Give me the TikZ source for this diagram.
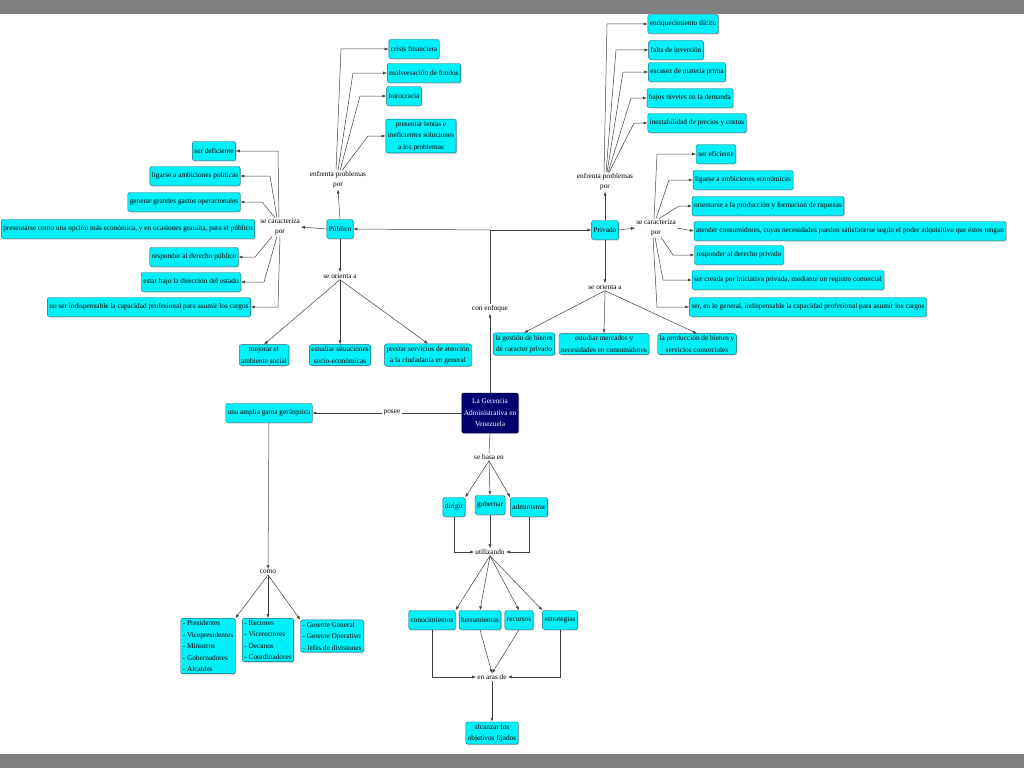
\documentclass[tikz,border=0pt]{standalone}
\usepackage{fontspec}
\setmainfont{Liberation Serif}
\usetikzlibrary{arrows.meta,shadows}
\definecolor{cy}{RGB}{0,240,250}
\definecolor{cyb}{RGB}{0,110,120}
\begin{document}
\begin{tikzpicture}[x=1pt,y=-1pt,
 box/.style={draw=cyb,fill=cy,rounded corners=2pt,inner xsep=2pt,inner ysep=2pt,minimum height=19pt,font=\fontsize{7.3}{11.5}\selectfont,align=center,drop shadow={shadow xshift=1pt,shadow yshift=-1pt,opacity=.4}},
 lbox/.style={box,align=left},
 lab/.style={font=\fontsize{7.3}{10}\selectfont,align=center,inner sep=1pt,fill=white},
 ln/.style={draw=black!75,line width=0.5pt},
 arr/.style={ln,-{Latex[length=4pt,width=3pt]}}]
\useasboundingbox (0,0) rectangle (1024,768);
\fill[gray] (0,0) rectangle (1024,14);
\fill[gray] (0,754) rectangle (1024,768);
% central
\node[box,fill={rgb,255:red,0;green,0;blue,110},draw=black,text=white,minimum width=56pt,minimum height=40pt] (cen) at (490,413) {La Gerencia\\Administrativa en\\Venezuela};
\node[lab] (enf) at (490,309) {con enfoque};
\node[box] (pub) at (340,229) {Público};
\node[box] (pri) at (605,230) {Privado};
\coordinate (J) at (490,230);
\draw[arr] (cen.north) -- (enf.south);
\draw[ln] (enf.north) -- (J);
\draw[arr] (J) -- (pub.east);
\draw[arr] (J) -- (pri.west);
% Publico problems
\node[lab] (epP) at (338,180) {enfrenta problemas\\por};
\node[box] (p1) at (414,49) {crisis financiera};
\node[box] (p2) at (424,73) {malversación de fondos};
\node[box] (p3) at (404,96) {burocracia};
\node[box] (p4) at (421,136) {presentar lentas e\\ineficientes soluciones\\a los problemas};
\draw[arr] (pub.north) -- (epP.south);
\draw[arr] ([xshift=-2pt]epP.north) -- (341,49) -- (p1.west);
\draw[arr] ([xshift=0pt]epP.north) -- (353,73) -- (p2.west);
\draw[arr] ([xshift=2pt]epP.north) -- (360,96) -- (p3.west);
\draw[arr] ([xshift=4pt]epP.north) -- (368,136) -- (p4.west);
% Publico caracteristicas
\node[lab] (scP) at (280,227) {se caracteriza\\por};
\node[box] (c1) at (214,151) {ser deficiente};
\node[box] (c2) at (195,176) {ligarse a ambiciones políticas};
\node[box] (c3) at (184,202) {generar grandes gastos operacionales};
\node[box] (c4) at (128,229) {presentarse como una opción más económica, y en ocasiones gratuita, para el público};
\node[box] (c5) at (194,257) {responder al derecho público};
\node[box] (c6) at (191,282) {estar bajo la dirección del estado};
\node[box] (c7) at (149,307) {no ser indispensable la capacidad profesional para asumir los cargos};
\draw[arr] (pub.west) -- (scP.east);
\draw[arr] ([xshift=-1pt]scP.north) -- (278,151) -- (c1.east);
\draw[arr] ([xshift=-3pt]scP.north) -- (270,176) -- (c2.east);
\draw[arr] ([xshift=-5pt]scP.north) -- (262,202) -- (c3.east);
\draw[arr] ([xshift=-8pt]scP.south) -- (255,257) -- (c5.east);
\draw[arr] ([xshift=-3pt]scP.south) -- (264,282) -- (c6.east);
\draw[arr] ([xshift=0pt]scP.south) -- (278,307) -- (c7.east);
% Publico orienta
\node[lab] (soP) at (340,276) {se orienta a};
\node[box] (o1) at (264,355) {mejorar el\\ambiente social};
\node[box] (o2) at (340,355) {estudiar situaciones\\socio-económicas};
\node[box] (o3) at (428,355) {prestar servicios de atención\\a la ciudadanía en general};
\draw[arr] (pub.south) -- (soP.north);
\draw[arr] (soP.south) -- (o1.north);
\draw[arr] (soP.south) -- (o2.north);
\draw[arr] (soP.south) -- (o3.north);
% Privado problems
\node[lab] (epR) at (605,182) {enfrenta problemas\\por};
\node[box] (q1) at (683,24) {enriquecimiento ilícito};
\node[box] (q2) at (676,50) {falta de inversión};
\node[box] (q3) at (687,72) {escasez de materia prima};
\node[box] (q4) at (690,98) {bajos niveles en la demanda};
\node[box] (q5) at (697,123) {inestabilidad de precios y costos};
\draw[arr] (pri.north) -- (epR.south);
\draw[arr] ([xshift=-1pt]epR.north) -- (607,24) -- (q1.west);
\draw[arr] ([xshift=1pt]epR.north) -- (616,50) -- (q2.west);
\draw[arr] ([xshift=2pt]epR.north) -- (623,72) -- (q3.west);
\draw[arr] ([xshift=3pt]epR.north) -- (631,98) -- (q4.west);
\draw[arr] ([xshift=4pt]epR.north) -- (634,123) -- (q5.west);
% Privado caracteristicas
\node[lab] (scR) at (656,228) {se caracteriza\\por};
\node[box] (d1) at (716,154) {ser eficiente};
\node[box] (d2) at (743,180) {ligarse a ambiciones económicas};
\node[box] (d3) at (768,206) {orientarse a la producción y formación de riquezas};
\node[box] (d4) at (850,231) {atender consumidores, cuyas necesidades pueden satisfacerse según el poder adquisitivo que éstos tengan};
\node[box] (d5) at (739,255) {responder al derecho privado};
\node[box] (d6) at (788,280) {ser creada por iniciativa privada, mediante un registro comercial};
\node[box] (d7) at (808,307) {ser, en lo general, indispensable la capacidad profesional para asumir los cargos};
\draw[arr] (pri.east) -- (scR.west);
\draw[arr] ([xshift=-2pt]scR.north) -- (657,154) -- (d1.west);
\draw[arr] ([xshift=0pt]scR.north) -- (669,180) -- (d2.west);
\draw[arr] ([xshift=3pt]scR.north) -- (679,206) -- (d3.west);
\draw[arr] (scR.east) -- (d4.west);
\draw[arr] ([xshift=5pt]scR.south) -- (673,255) -- (d5.west);
\draw[arr] ([xshift=-1pt]scR.south) -- (663,280) -- (d6.west);
\draw[arr] ([xshift=-3pt]scR.south) -- (657,307) -- (d7.west);
% Privado orienta
\node[lab] (soR) at (605,287) {se orienta a};
\node[box] (r1) at (524,344) {la gestión de bienes\\de caracter privado};
\node[box] (r2) at (604,344) {estudiar mercados y\\necesidades en consumidores};
\node[box] (r3) at (697,344) {la producción de bienes y\\servicios comerciales};
\draw[arr] (pri.south) -- (soR.north);
\draw[arr] (soR.south) -- (r1.north);
\draw[arr] (soR.south) -- (r2.north);
\draw[arr] (soR.south) -- (r3.north);
% posee
\node[lab] (pos) at (392,413) {posee};
\node[box] (gam) at (269,413) {una amplia gama gerárquica};
\draw[ln] (cen.west) -- (pos.east);
\draw[arr] (pos.west) -- (gam.east);
\node[lab] (com) at (268,572) {como};
\draw[arr] (gam.south) -- (com.north);
\node[lbox] (g1) at (208,646) {- Presidentes\\- Vicepresidentes\\- Ministros\\- Gobernadores\\- Alcaldes};
\node[lbox] (g2) at (268,640) {- Rectores\\- Vicerectores\\- Decanos\\- Coordinadores};
\node[lbox] (g3) at (332,636) {- Gerente General\\- Gerente Operativo\\- Jefes de divisiones};
\draw[arr] (com.south) -- (g1.north east);
\draw[arr] (com.south) -- (g2.north);
\draw[arr] (com.south) -- (g3.north west);
% se basa en
\node[lab] (sb) at (489,457) {se basa en};
\draw[ln] (cen.south) -- (sb.north);
\node[box] (b1) at (454,507) {dirigir};
\node[box] (b2) at (490,505) {gobernar};
\node[box] (b3) at (529,507) {administrar};
\draw[arr] (sb.south) -- (b1.north east);
\draw[arr] (sb.south) -- (b2.north);
\draw[arr] (sb.south) -- (b3.north west);
\node[lab] (ut) at (490,552) {utilizando};
\draw[arr] (b1.south) |- (ut.west);
\draw[arr] (b2.south) -- (ut.north);
\draw[arr] (b3.south) |- (ut.east);
\node[box] (u1) at (432,620) {conocimientos};
\node[box] (u2) at (480,620) {herramientas};
\node[box] (u3) at (519,620) {recursos};
\node[box] (u4) at (560,620) {estrategias};
\draw[arr] (ut.south) -- (u1.north east);
\draw[arr] (ut.south) -- (u2.north);
\draw[arr] (ut.south) -- (u3.north);
\draw[arr] (ut.south) -- (u4.north west);
\node[lab] (ea) at (492,677) {en aras de};
\draw[arr] (u1.south) |- (ea.west);
\draw[arr] (u2.south) -- (ea.north);
\draw[arr] (u3.south) -- (ea.north);
\draw[arr] (u4.south) |- (ea.east);
\node[box] (alc) at (492,733) {alcanzar los\\objetivos fijados};
\draw[arr] (ea.south) -- (alc.north);
\end{tikzpicture}
\end{document}
